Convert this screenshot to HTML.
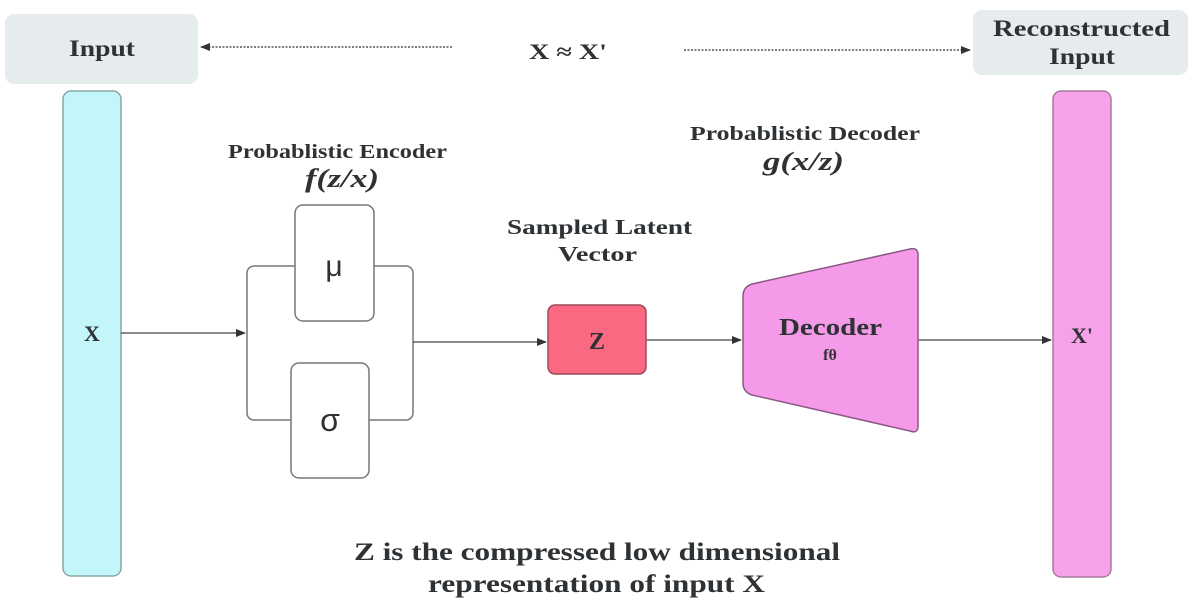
<!DOCTYPE html>
<html><head><meta charset="utf-8"><style>
html,body{margin:0;padding:0;background:#fff;}
svg{display:block;}
text{font-family:"Liberation Serif",serif;font-weight:bold;fill:#2e3235;}
</style></head><body>
<svg width="1200" height="608" viewBox="0 0 1200 608" xmlns="http://www.w3.org/2000/svg">
<defs>
<marker id="ah" markerWidth="10" markerHeight="8" refX="9" refY="4" orient="auto" markerUnits="userSpaceOnUse">
<path d="M0,0 L10,4 L0,8 z" fill="#333"/></marker>
</defs>
<!-- top boxes -->
<rect x="5" y="14" width="193" height="70" rx="9" fill="#e6ecee"/>
<text x="69" y="56" font-size="23" textLength="66" lengthAdjust="spacingAndGlyphs">Input</text>
<rect x="973" y="10" width="215" height="65" rx="9" fill="#e6ecee"/>
<text x="993" y="36" font-size="23" textLength="177" lengthAdjust="spacingAndGlyphs">Reconstructed</text>
<text x="1049" y="64" font-size="23" textLength="66" lengthAdjust="spacingAndGlyphs">Input</text>
<line x1="452" y1="47" x2="201" y2="47" stroke="#555" stroke-width="1.6" stroke-dasharray="2,1.5" marker-end="url(#ah)"/>
<line x1="684" y1="50" x2="970" y2="50" stroke="#555" stroke-width="1.6" stroke-dasharray="2,1.5" marker-end="url(#ah)"/>
<text x="529" y="59" font-size="22" textLength="78" lengthAdjust="spacingAndGlyphs">X ≈ X'</text>
<!-- bars -->
<rect x="63" y="91" width="58" height="485" rx="8" fill="#c2f6f8" stroke="#8aa6a8" stroke-width="1.5"/>
<text x="92" y="341" font-size="22" text-anchor="middle">X</text>
<rect x="1053" y="91" width="58" height="486" rx="8" fill="#f7a1ea" stroke="#a87a9e" stroke-width="1.5"/>
<text x="1082" y="343" font-size="22" text-anchor="middle">X'</text>
<!-- labels -->
<text x="228" y="158" font-size="20" textLength="219" lengthAdjust="spacingAndGlyphs">Probablistic Encoder</text>
<text x="305" y="187" font-size="26" font-style="italic" textLength="74" lengthAdjust="spacingAndGlyphs">f(z/x)</text>
<text x="690" y="140" font-size="20" textLength="230" lengthAdjust="spacingAndGlyphs">Probablistic Decoder</text>
<text x="763" y="170" font-size="26" font-style="italic" textLength="81" lengthAdjust="spacingAndGlyphs">g(x/z)</text>
<text x="507" y="234" font-size="21" textLength="185" lengthAdjust="spacingAndGlyphs">Sampled Latent</text>
<text x="558" y="261" font-size="21" textLength="79" lengthAdjust="spacingAndGlyphs">Vector</text>
<!-- encoder -->
<rect x="247" y="266" width="166" height="154" rx="7" fill="#fff" stroke="#777" stroke-width="1.5"/>
<rect x="295" y="205" width="79" height="116" rx="8" fill="#fff" stroke="#777" stroke-width="1.5"/>
<text x="334" y="276" font-size="30" text-anchor="middle" style="font-family:'Liberation Sans',sans-serif;font-weight:normal">μ</text>
<rect x="291" y="363" width="78" height="115" rx="8" fill="#fff" stroke="#777" stroke-width="1.5"/>
<text x="330" y="431" font-size="32" text-anchor="middle" style="font-family:'Liberation Sans',sans-serif;font-weight:normal">σ</text>
<!-- connectors -->
<line x1="121" y1="333" x2="245" y2="333" stroke="#444" stroke-width="1.3" marker-end="url(#ah)"/>
<line x1="413" y1="342" x2="546" y2="342" stroke="#444" stroke-width="1.3" marker-end="url(#ah)"/>
<line x1="646" y1="340" x2="741" y2="340" stroke="#444" stroke-width="1.3" marker-end="url(#ah)"/>
<line x1="918" y1="340" x2="1051" y2="340" stroke="#444" stroke-width="1.3" marker-end="url(#ah)"/>
<!-- Z -->
<rect x="548" y="305" width="98" height="69" rx="7" fill="#fb6882" stroke="#9a4a58" stroke-width="1.5"/>
<text x="597" y="349" font-size="24" text-anchor="middle">Z</text>
<!-- decoder -->
<path d="M752,284 L910,249 Q918,247 918,255 L918,426 Q918,434 910,431 L752,395 Q743,392 743,383 L743,296 Q743,287 752,284 Z" fill="#f59ae9" stroke="#8a5a84" stroke-width="1.5"/>
<text x="779" y="335" font-size="24" textLength="103" lengthAdjust="spacingAndGlyphs">Decoder</text>
<text x="830" y="360" font-size="16" text-anchor="middle">fθ</text>
<!-- bottom -->
<text x="354" y="560" font-size="25" textLength="486" lengthAdjust="spacingAndGlyphs">Z is the compressed low dimensional</text>
<text x="428" y="592" font-size="25" textLength="337" lengthAdjust="spacingAndGlyphs">representation of input X</text>
</svg>
</body></html>
